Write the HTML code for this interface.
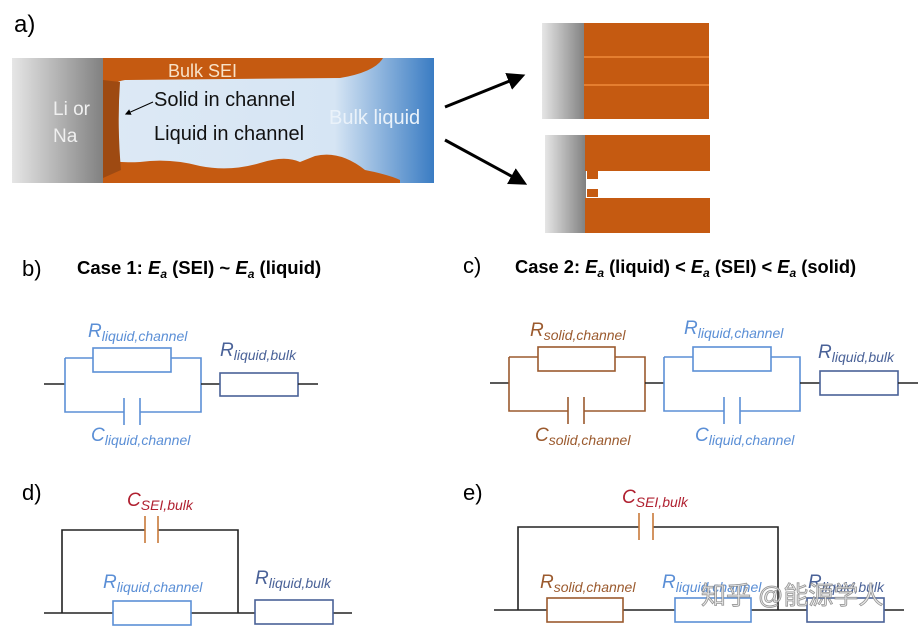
<!DOCTYPE html>
<html><head><meta charset="utf-8"><style>
html,body{margin:0;padding:0;background:#fff;}
svg{display:block;font-family:"Liberation Sans","Noto Sans CJK SC",sans-serif;}
.lbl{font-style:italic;}
</style></head><body>
<svg width="924" height="630" viewBox="0 0 924 630" xmlns="http://www.w3.org/2000/svg">
<defs>
<linearGradient id="gray" x1="0" x2="1" y1="0" y2="0"><stop offset="0" stop-color="#e6e6e6"/><stop offset="1" stop-color="#808080"/></linearGradient>
<linearGradient id="blue" x1="0" x2="1" y1="0" y2="0"><stop offset="0" stop-color="#dde9f5"/><stop offset="0.7" stop-color="#d6e5f4"/><stop offset="1" stop-color="#3a7cc3"/></linearGradient>
<marker id="ah" viewBox="0 0 10 10" refX="8" refY="5" markerWidth="6" markerHeight="6" orient="auto"><path d="M0,0 L10,5 L0,10 z" fill="#000"/></marker>
</defs>
<!-- panel a -->
<text x="14" y="32" font-size="24">a)</text>
<rect x="12" y="58" width="92" height="125" fill="url(#gray)"/>
<rect x="103" y="58" width="331" height="125" fill="url(#blue)"/>
<path d="M103,58 L383,58 Q375,72 340,78 L125,80 Q112,82 110,90 L103,90 z" fill="#c55a11"/>
<path d="M103,160 Q120,163 140,162 Q170,158 200,166 Q230,172 260,163 Q285,155 300,162 L315,156 Q340,150 365,170 Q390,175 400,180 L400,183 L103,183 z" fill="#c55a11"/>
<path d="M103,80 L120,82 Q117,125 121,170 L103,178 z" fill="#9e4a12"/>
<text x="168" y="77" font-size="18" fill="#f8e2c8">Bulk SEI</text>
<text x="53" y="115" font-size="19" fill="#f0f0f0">Li or</text>
<text x="53" y="142" font-size="19" fill="#f0f0f0">Na</text>
<text x="154" y="106" font-size="20" fill="#111">Solid in channel</text>
<text x="154" y="140" font-size="20" fill="#111">Liquid in channel</text>
<text x="329" y="124" font-size="20" fill="#eaf2fa">Bulk liquid</text>
<line x1="153" y1="102" x2="126" y2="114" stroke="#000" stroke-width="1" marker-end="url(#ah)"/>
<line x1="445" y1="107" x2="522" y2="76" stroke="#000" stroke-width="3" marker-end="url(#ah)"/>
<line x1="445" y1="140" x2="524" y2="183" stroke="#000" stroke-width="3" marker-end="url(#ah)"/>
<rect x="542" y="23" width="43" height="96" fill="url(#gray)"/>
<rect x="584" y="23" width="125" height="96" fill="#c55a11"/>
<line x1="584" y1="57" x2="709" y2="57" stroke="#f08a3a" stroke-width="1.5"/>
<line x1="584" y1="85" x2="709" y2="85" stroke="#f08a3a" stroke-width="1.5"/>
<rect x="545" y="135" width="41" height="98" fill="url(#gray)"/>
<rect x="585" y="135" width="125" height="36" fill="#c55a11"/>
<rect x="585" y="198" width="125" height="35" fill="#c55a11"/>
<rect x="587" y="171" width="11" height="8" fill="#c55a11"/>
<rect x="587" y="189" width="11" height="8" fill="#c55a11"/>
<!-- headers -->
<text x="22" y="276" font-size="22">b)</text>
<text x="77" y="274" font-size="18.5" font-weight="bold">Case 1: <tspan font-style="italic">E</tspan><tspan font-size="12" dy="4" font-style="italic">a</tspan><tspan dy="-4"> (SEI) ~ </tspan><tspan font-style="italic">E</tspan><tspan font-size="12" dy="4" font-style="italic">a</tspan><tspan dy="-4"> (liquid)</tspan></text>
<text x="463" y="273" font-size="22">c)</text>
<text x="515" y="273" font-size="18.3" font-weight="bold">Case 2: <tspan font-style="italic">E</tspan><tspan font-size="12" dy="4" font-style="italic">a</tspan><tspan dy="-4"> (liquid) &lt; </tspan><tspan font-style="italic">E</tspan><tspan font-size="12" dy="4" font-style="italic">a</tspan><tspan dy="-4"> (SEI) &lt; </tspan><tspan font-style="italic">E</tspan><tspan font-size="12" dy="4" font-style="italic">a</tspan><tspan dy="-4"> (solid)</tspan></text>
<text x="22" y="500" font-size="22">d)</text>
<text x="463" y="500" font-size="22">e)</text>
<g fill="none" stroke-width="1.6">
<!-- b -->
<line x1="44" y1="384" x2="65" y2="384" stroke="#222"/>
<path d="M65,358 H93 M171,358 H201 V412 H140 M124,412 H65 V358 M124,398 V425 M140,398 V425" stroke="#5b8fd6"/>
<rect x="93" y="348" width="78" height="24" stroke="#5b8fd6"/>
<line x1="201" y1="384" x2="220" y2="384" stroke="#222"/>
<rect x="220" y="373" width="78" height="23" stroke="#4a6298"/>
<line x1="298" y1="384" x2="318" y2="384" stroke="#222"/>
<!-- c -->
<line x1="490" y1="383" x2="509" y2="383" stroke="#222"/>
<path d="M509,357 H538 M615,357 H645 V411 H584 M568,411 H509 V357 M568,397 V424 M584,397 V424" stroke="#9b5a2e"/>
<rect x="538" y="347" width="77" height="24" stroke="#9b5a2e"/>
<line x1="645" y1="383" x2="664" y2="383" stroke="#222"/>
<path d="M664,357 H693 M771,357 H800 V411 H740 M724,411 H664 V357 M724,397 V424 M740,397 V424" stroke="#5b8fd6"/>
<rect x="693" y="347" width="78" height="24" stroke="#5b8fd6"/>
<line x1="800" y1="383" x2="820" y2="383" stroke="#222"/>
<rect x="820" y="371" width="78" height="24" stroke="#4a6298"/>
<line x1="898" y1="383" x2="918" y2="383" stroke="#222"/>
<!-- d -->
<path d="M145,530 H62 V613 M158,530 H238 V613 M44,613 H113 M191,613 H255 M333,613 H352" stroke="#222"/>
<path d="M145,516 V543 M158,516 V543" stroke="#c87a3a"/>
<rect x="113" y="601" width="78" height="24" stroke="#5b8fd6"/>
<rect x="255" y="600" width="78" height="24" stroke="#4a6298"/>
<!-- e -->
<path d="M639,527 H518 V610 M653,527 H778 V610 M494,610 H547 M623,610 H675 M751,610 H807 M884,610 H904" stroke="#222"/>
<path d="M639,513 V540 M653,513 V540" stroke="#c87a3a"/>
<rect x="547" y="598" width="76" height="24" stroke="#9b5a2e"/>
<rect x="675" y="598" width="76" height="24" stroke="#5b8fd6"/>
<rect x="807" y="598" width="77" height="24" stroke="#4a6298"/>
</g>
<g class="lbl">
<text x="88" y="337" font-size="19" fill="#5b8fd6">R<tspan font-size="14" dy="4">liquid,channel</tspan></text>
<text x="220" y="356" font-size="19" fill="#4a6298">R<tspan font-size="14" dy="4">liquid,bulk</tspan></text>
<text x="91" y="441" font-size="19" fill="#5b8fd6">C<tspan font-size="14" dy="4">liquid,channel</tspan></text>
<text x="530" y="336" font-size="19" fill="#9b5a2e">R<tspan font-size="14" dy="4">solid,channel</tspan></text>
<text x="684" y="334" font-size="19" fill="#5b8fd6">R<tspan font-size="14" dy="4">liquid,channel</tspan></text>
<text x="818" y="358" font-size="19" fill="#4a6298">R<tspan font-size="14" dy="4">liquid,bulk</tspan></text>
<text x="535" y="441" font-size="19" fill="#9b5a2e">C<tspan font-size="14" dy="4">solid,channel</tspan></text>
<text x="695" y="441" font-size="19" fill="#5b8fd6">C<tspan font-size="14" dy="4">liquid,channel</tspan></text>
<text x="127" y="506" font-size="19" fill="#b02030">C<tspan font-size="14" dy="4">SEI,bulk</tspan></text>
<text x="103" y="588" font-size="19" fill="#5b8fd6">R<tspan font-size="14" dy="4">liquid,channel</tspan></text>
<text x="255" y="584" font-size="19" fill="#4a6298">R<tspan font-size="14" dy="4">liquid,bulk</tspan></text>
<text x="622" y="503" font-size="19" fill="#b02030">C<tspan font-size="14" dy="4">SEI,bulk</tspan></text>
<text x="540" y="588" font-size="19" fill="#9b5a2e">R<tspan font-size="14" dy="4">solid,channel</tspan></text>
<text x="662" y="588" font-size="19" fill="#5b8fd6">R<tspan font-size="14" dy="4">liquid,channel</tspan></text>
<text x="808" y="588" font-size="19" fill="#4a6298">R<tspan font-size="14" dy="4">liquid,bulk</tspan></text>
</g>
<text x="701" y="604" font-size="25" fill="#e6e6e6" stroke="#888" stroke-width="0.8" opacity="0.9">知乎 @能源学人</text>
</svg>
</body></html>
